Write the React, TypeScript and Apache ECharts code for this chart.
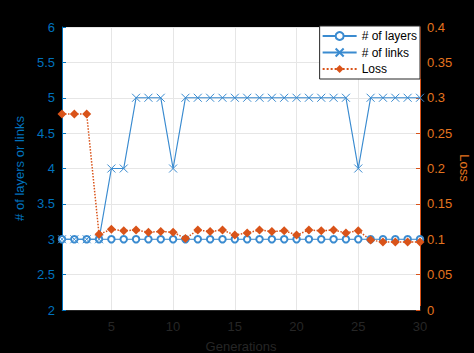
import React, { useEffect, useRef } from "react";
import * as echarts from "echarts";

const generations = [1,2,3,4,5,6,7,8,9,10,11,12,13,14,15,16,17,18,19,20,21,22,23,24,25,26,27,28,29,30];
const layers = [3,3,3,3,3,3,3,3,3,3,3,3,3,3,3,3,3,3,3,3,3,3,3,3,3,3,3,3,3,3];
const links = [3,3,3,3,4,4,5,5,5,4,5,5,5,5,5,5,5,5,5,5,5,5,5,5,4,5,5,5,5,5];
const loss = [0.277,0.277,0.277,0.107,0.114,0.112,0.113,0.110,0.111,0.110,0.101,0.113,0.111,0.113,0.106,0.109,0.113,0.111,0.112,0.106,0.113,0.112,0.113,0.109,0.112,0.099,0.096,0.096,0.096,0.096];
const xTicks = [5,10,15,20,25,30];
const xGrid = [5,10,15,20,25];

const BLUE = "#0072BD";
const LINE_BLUE = "#3a8bd0";
const ORANGE = "#D95319";
const ORANGE_TXT = "#E5741F";
const DARK = "#262626";
const FONT = "'Liberation Sans', Arial, sans-serif";

export default function App() {
  const ref = useRef<HTMLDivElement>(null);
  useEffect(() => {
    document.body.style.margin = "0";
    document.body.style.background = "#000";
    const chart = echarts.init(ref.current!, null, { renderer: "svg" });
    const pair = (ys: number[]) => generations.map((g, i) => [g, ys[i]]);
    chart.setOption({
      animation: false,
      backgroundColor: "#000",
      textStyle: { fontFamily: FONT },
      grid: {
        left: 62, right: 54, top: 27, bottom: 43,
        show: true, backgroundColor: "#fff", borderWidth: 0,
        containLabel: false, outerBoundsMode: "none",
      },
      legend: {
        orient: "vertical",
        right: 54, top: 26,
        backgroundColor: "#fff",
        borderColor: DARK, borderWidth: 1,
        padding: [4, 3, 4, 2],
        itemGap: 4.5,
        itemWidth: 34, itemHeight: 10,
        textStyle: { color: "#000", fontSize: 12, fontFamily: FONT },
        data: ["# of layers", "# of links", "Loss"],
      },
      graphic: [
        {
          type: "text",
          x: 464, y: 168,
          rotation: -Math.PI / 2,
          style: {
            text: "Loss", fill: ORANGE_TXT, fontSize: 13, fontFamily: FONT,
            align: "center", verticalAlign: "middle",
          },
        },
      ],
      xAxis: {
        type: "value", min: 1, max: 30,
        name: "Generations", nameLocation: "middle", nameGap: 30,
        nameTextStyle: { color: DARK, fontSize: 13, fontFamily: FONT },
        axisLine: { show: true, lineStyle: { color: DARK } },
        axisTick: { show: true, inside: true, length: 4, customValues: xTicks, lineStyle: { color: DARK } },
        axisLabel: { color: DARK, fontSize: 13, customValues: xTicks, margin: 10, fontFamily: FONT },
        splitLine: { show: false },
      },
      yAxis: [
        {
          type: "value", min: 2, max: 6, interval: 0.5, position: "left",
          name: "# of layers or links", nameLocation: "middle", nameGap: 25,
          nameTextStyle: { color: BLUE, fontSize: 13, fontFamily: FONT },
          axisLine: { show: true, lineStyle: { color: BLUE, width: 1 } },
          axisTick: { show: true, inside: true, length: 4, lineStyle: { color: BLUE } },
          axisLabel: { color: BLUE, fontSize: 13, margin: 7, fontFamily: FONT },
          splitLine: { show: true, lineStyle: { color: "#e6e6e6", width: 1 } },
        },
        {
          type: "value", min: 0, max: 0.4, interval: 0.05, position: "right",
          axisLine: { show: true, lineStyle: { color: ORANGE, width: 1 } },
          axisTick: { show: true, inside: true, length: 4, lineStyle: { color: ORANGE } },
          axisLabel: { color: ORANGE_TXT, fontSize: 13, margin: 7, fontFamily: FONT },
          splitLine: { show: false },
        },
      ],
      series: [
        {
          name: "# of layers", type: "line", yAxisIndex: 0,
          data: pair(layers),
          symbol: "emptyCircle", symbolSize: 6.5,
          itemStyle: { color: LINE_BLUE, borderColor: LINE_BLUE, borderWidth: 0.6 },
          lineStyle: { color: LINE_BLUE, width: 1.2 },
          markLine: {
            silent: true, symbol: "none", z: 1,
            label: { show: false },
            lineStyle: { color: "#e6e6e6", type: "solid", width: 1 },
            data: xGrid.map((v) => ({ xAxis: v })),
          },
          z: 3,
        },
        {
          name: "# of links", type: "line", yAxisIndex: 0,
          data: pair(links),
          symbol: "path://M0,0L10,10M10,0L0,10", symbolSize: 8,
          itemStyle: { color: LINE_BLUE, borderColor: LINE_BLUE, borderWidth: 1 },
          lineStyle: { color: LINE_BLUE, width: 1.2 },
          z: 3,
        },
        {
          name: "Loss", type: "line", yAxisIndex: 1,
          data: pair(loss),
          symbol: "diamond", symbolSize: 9,
          itemStyle: { color: ORANGE },
          lineStyle: { color: ORANGE, width: 1.5, type: "dotted" },
          z: 4,
        },
      ],
    });
    return () => chart.dispose();
  }, []);
  return <div ref={ref} style={{ width: 474, height: 353 }} />;
}
